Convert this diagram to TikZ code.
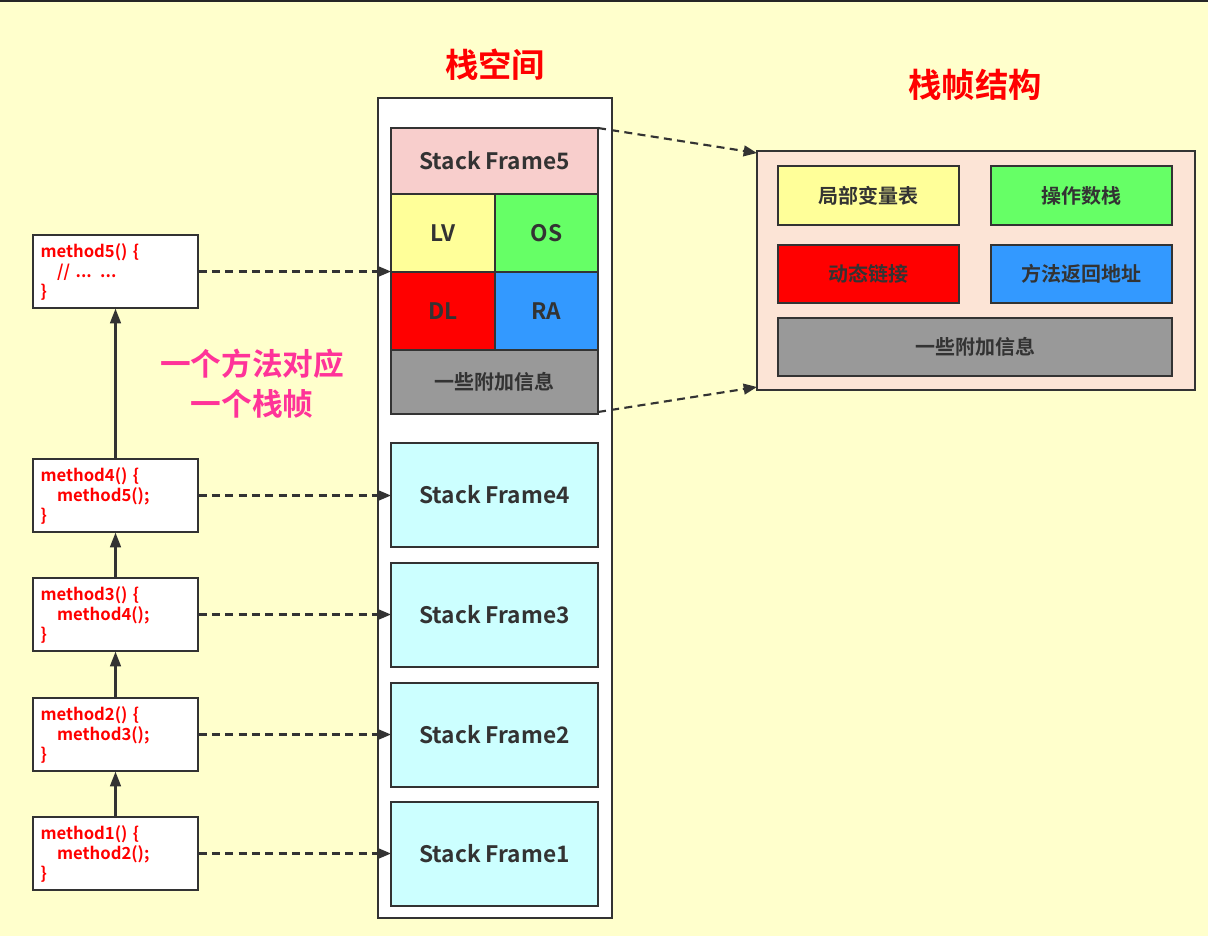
\documentclass[tikz,border=0pt]{standalone}
\usepackage{fontspec}
\setmainfont{Noto Sans CJK SC}[BoldFont={* Bold}]
\usetikzlibrary{arrows.meta}
\definecolor{bg}{HTML}{FFFFCC}
\definecolor{pk}{HTML}{F8CECC}
\definecolor{yl}{HTML}{FFFF99}
\definecolor{gr}{HTML}{66FF66}
\definecolor{bl}{HTML}{3399FF}
\definecolor{gy}{HTML}{999999}
\definecolor{cy}{HTML}{CCFFFF}
\definecolor{pe}{HTML}{FCE4D6}
\definecolor{tx}{HTML}{333333}
\definecolor{mg}{HTML}{FF3399}
\begin{document}
\begin{tikzpicture}[x=0.75pt,y=-0.75pt,font=\bfseries,
  box/.style={draw=tx,line width=1.6pt,text=tx},
  cell/.style={box,font=\bfseries\fontsize{17}{19}\selectfont},
  meth/.style={draw=tx,line width=0.9pt,fill=white,text=red,align=left,font=\bfseries\fontsize{12.5}{15}\selectfont,
    minimum width=165*0.75pt,minimum height=73*0.75pt,text width=150*0.75pt,inner sep=2pt},
  da/.style={line width=1.6pt,dash pattern=on 6pt off 4pt,draw=tx,-{Triangle[length=10pt,width=8pt]}},
  sa/.style={line width=1.8pt,draw=tx,-{Triangle[length=11pt,width=8pt]}}]
\fill[bg] (0,0) rectangle (1208,936);
\fill[black!85] (0,0) rectangle (1208,2);
\useasboundingbox (0,0) rectangle (1208,936);
\node[text=red,font=\bfseries\fontsize{25}{27}\selectfont] (t1) at (495,65) {栈空间};
\node[text=red,font=\bfseries\fontsize{25}{27}\selectfont] (t2) at (975,85) {栈帧结构};
\node[text=mg,font=\bfseries\fontsize{23}{30}\selectfont,align=center] (note) at (252,384) {一个方法对应\\一个栈帧};
\node[draw=tx,line width=1.6pt,fill=white,minimum width=234*0.75pt,minimum height=820*0.75pt,inner sep=0] (stack) at (495,508) {};
% stack frame 5
\path[cell,fill=pk] (391,128) rectangle node (sf5) {Stack Frame5} (598,194);
\path[cell,fill=yl] (391,194) rectangle node (lv) {LV} (495,272);
\path[cell,fill=gr] (495,194) rectangle node (os) {OS} (598,272);
\path[cell,fill=red] (391,272) rectangle node (dl) {DL} (495,350);
\path[cell,fill=bl] (495,272) rectangle node (ra) {RA} (598,350);
\path[box,fill=gy,font=\bfseries\fontsize{15}{17}\selectfont] (391,350) rectangle node (ex) {一些附加信息} (598,414);
\coordinate (f5tr) at (598,128);
\coordinate (f5br) at (598,412);
\path[cell,fill=cy] (391,443) rectangle node (sf4) {Stack Frame4} (598,547);
\path[cell,fill=cy] (391,563) rectangle node (sf3) {Stack Frame3} (598,667);
\path[cell,fill=cy] (391,683) rectangle node (sf2) {Stack Frame2} (598,787);
\path[cell,fill=cy] (391,802) rectangle node (sf1) {Stack Frame1} (598,906);
\coordinate (e5) at (391,271.5);
\coordinate (e4) at (391,495.5);
\coordinate (e3) at (391,614.5);
\coordinate (e2) at (391,734.5);
\coordinate (e1) at (391,853.5);
% right structure
\node[draw=tx,line width=1.6pt,fill=pe,minimum width=438*0.75pt,minimum height=239*0.75pt,inner sep=0] (st) at (976,270.5) {};
\tikzset{rc/.style={box,font=\bfseries\fontsize{15}{17}\selectfont}}
\path[rc,fill=yl] (778,166) rectangle node (r1) {局部变量表} (959,225);
\path[rc,fill=gr] (991,166) rectangle node (r2) {操作数栈} (1172,225);
\path[rc,fill=red] (778,245) rectangle node (r3) {动态链接} (959,303);
\path[rc,fill=bl] (991,245) rectangle node (r4) {方法返回地址} (1172,303);
\path[rc,fill=gy] (778,318) rectangle node (r5) {一些附加信息} (1172,376);
\coordinate (st1) at (757,153);
\coordinate (st2) at (757,387);
\draw[da] (f5tr) -- (st1);
\draw[da] (f5br) -- (st2);
% methods
\node[meth] (m5) at (115.5,271.5) {method5() \{\\\quad // ... ...\\\}};
\node[meth] (m4) at (115.5,495.5) {method4() \{\\\quad method5();\\\}};
\node[meth] (m3) at (115.5,614.5) {method3() \{\\\quad method4();\\\}};
\node[meth] (m2) at (115.5,734.5) {method2() \{\\\quad method3();\\\}};
\node[meth] (m1) at (115.5,853.5) {method1() \{\\\quad method2();\\\}};
\draw[sa] (m1) -- (m2);
\draw[sa] (m2) -- (m3);
\draw[sa] (m3) -- (m4);
\draw[sa] (m4) -- (m5);
\draw[da] (m5.east) -- (e5);
\draw[da] (m4.east) -- (e4);
\draw[da] (m3.east) -- (e3);
\draw[da] (m2.east) -- (e2);
\draw[da] (m1.east) -- (e1);
\end{tikzpicture}
\end{document}
